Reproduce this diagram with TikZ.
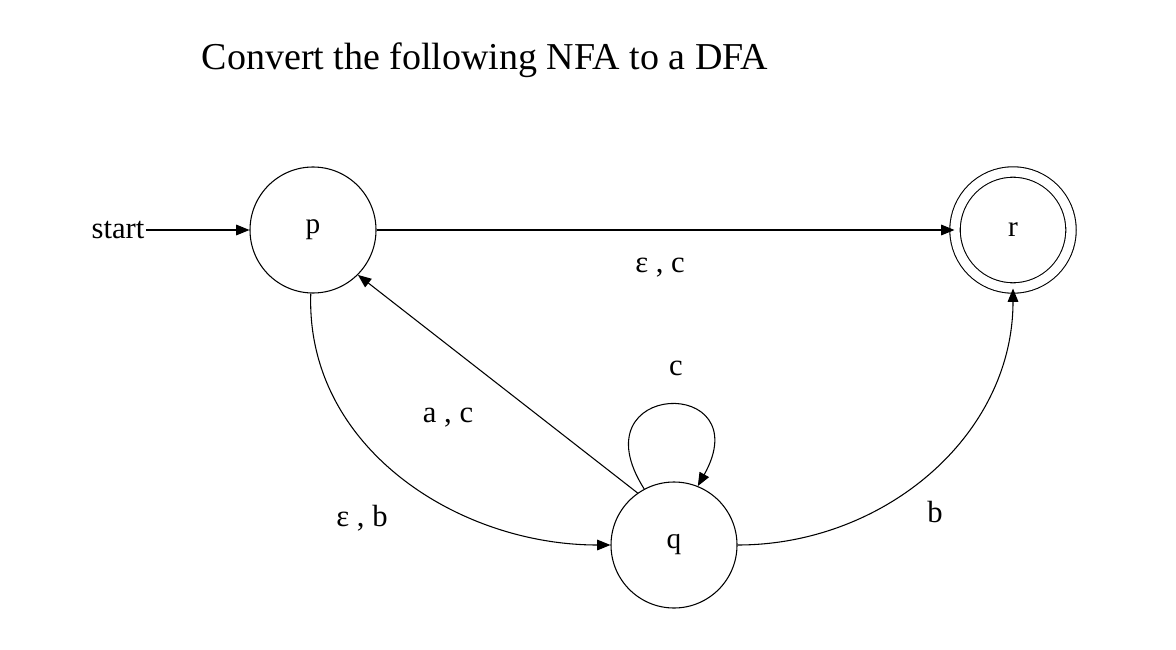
\documentclass[tikz,border=0pt]{standalone}
\usepackage{fontspec}
\setmainfont{Liberation Serif}
\usetikzlibrary{arrows.meta}
\begin{document}
\begin{tikzpicture}[x=0.75pt,y=-0.75pt,
  st/.style={circle,draw,line width=0.8pt,minimum size=94.5pt,inner sep=0pt,font=\fontsize{22}{22}\selectfont},
  lbl/.style={font=\fontsize{23}{23}\selectfont},
  >={Triangle[length=10pt,width=8pt]}, every path/.style={line width=0.8pt}]
\useasboundingbox (0,0) rectangle (1176,649);
\node[font=\fontsize{28.5}{28.5}\selectfont] (title) at (485,60) {Convert the following NFA to a DFA};
\node[st] (p) at (313,230) {p};
\node[st] (q) at (674,545) {q};
\node[st,minimum size=87pt,double,double distance=7pt] (r) at (1013,230) {r};
\node[lbl,inner sep=1pt] (start) at (118,230) {start};
\draw[->] (start) -- (p);
\draw[->] (p) -- (r);
\draw[->] (p.268) to[out=268,in=180] (q.west);
\draw[->] (q.125) -- (p.-45);
\draw[->] (q.east) to[out=0,in=270] (r.south);
\draw[->] (q.118) .. controls (575,380) and (760,375) .. (q.68);
\node[lbl] at (660,268) {ε , c};
\node[lbl] at (676,368) {c};
\node[lbl] at (448,418) {a , c};
\node[lbl] at (362,518) {ε , b};
\node[lbl] at (935,512) {b};
\end{tikzpicture}
\end{document}
